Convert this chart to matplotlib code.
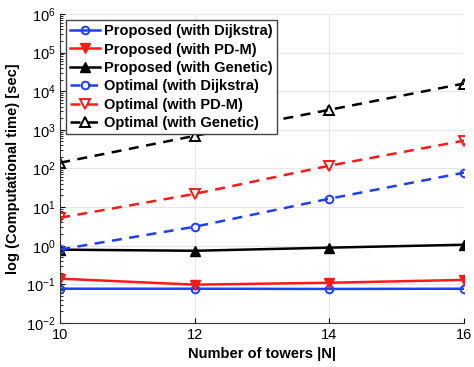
import matplotlib
matplotlib.use("Agg")
from matplotlib import pyplot as plt
import numpy as np

plt.rcParams["font.family"] = ["Liberation Sans", "DejaVu Sans"]

towers = [10, 12, 14, 16]
prop_dijkstra = [0.077, 0.077, 0.076, 0.077]
prop_pdm = [0.14, 0.098, 0.11, 0.13]
prop_genetic = [0.79, 0.74, 0.89, 1.06]
opt_dijkstra = [0.8, 3.1, 16.5, 78]
opt_pdm = [5.3, 22, 118, 525]
opt_genetic = [141, 700, 3300, 15800]

fig = plt.figure(figsize=(4.74, 3.67), dpi=100)
ax = fig.add_axes([0.127, 0.12, 0.852, 0.842])

lw = 1.8
ms = 5.5
ax.plot(towers, prop_dijkstra, color="#1f3fff", ls="-", lw=lw, marker="o", ms=ms, mfc="none", mew=1.4, label="Proposed (with Dijkstra)")
ax.plot(towers, prop_pdm, color="#ff1a1a", ls="-", lw=lw, marker="v", ms=ms + 1, mfc="#ff1a1a", label="Proposed (with PD-M)")
ax.plot(towers, prop_genetic, color="black", ls="-", lw=lw, marker="^", ms=ms + 1, mfc="black", label="Proposed (with Genetic)")
ax.plot(towers, opt_dijkstra, color="#1f3fff", ls=(0, (4, 3)), lw=lw, marker="o", ms=ms, mfc="none", mew=1.4, label="Optimal (with Dijkstra)")
ax.plot(towers, opt_pdm, color="#ff1a1a", ls=(0, (4, 3)), lw=lw, marker="v", ms=ms + 1, mfc="none", mew=1.4, label="Optimal (with PD-M)")
ax.plot(towers, opt_genetic, color="black", ls=(0, (4, 3)), lw=lw, marker="^", ms=ms + 1, mfc="none", mew=1.4, label="Optimal (with Genetic)")

ax.set_yscale("log")
ax.set_ylim(1e-2, 1e6)
ax.set_xlim(10, 16)
ax.set_xticks(towers)
ax.set_yticks([10.0**k for k in range(-2, 7)])
ax.grid(True, which="major", color="#e6e6e6", lw=0.8)
ax.tick_params(which="both", direction="in", labelsize=10.5, top=False, right=False)
ax.tick_params(which="minor", length=2)
for s in ax.spines.values():
    s.set_color("#333333")
ax.spines["top"].set_visible(False)
ax.spines["right"].set_visible(False)

ax.set_xlabel("Number of towers |N|", fontsize=10.5, fontweight="bold")
ax.set_ylabel("log (Computational time) [sec]", fontsize=10.5, fontweight="bold")

leg = ax.legend(loc="upper left", prop={"weight": "bold", "size": 10.5}, frameon=True, fancybox=False,
                edgecolor="#444444", framealpha=1, borderaxespad=0.4, handlelength=2.0,
                handletextpad=0.3, labelspacing=0.3, borderpad=0.3)

fig.savefig("out.png", dpi=100)
